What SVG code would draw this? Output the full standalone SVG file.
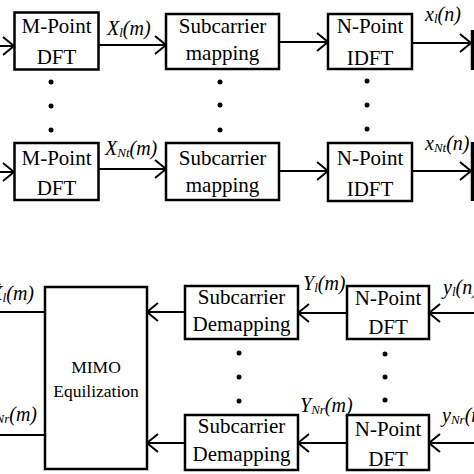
<svg xmlns="http://www.w3.org/2000/svg" width="474" height="474" viewBox="0 0 474 474">
<defs>
<style>
.box{fill:#fff;stroke:#000;stroke-width:2.5}
text{font-family:'Liberation Serif','DejaVu Serif','Noto Serif',Times,serif;fill:#000}
.bt{font-size:21px;text-anchor:middle}
.mt{font-size:17.5px;text-anchor:middle}
.lb{font-size:20px;font-style:italic}
.sub{font-size:13px}
.ln{fill:none;stroke:#000;stroke-width:2}
.dot{fill:#000}
</style>
<marker id="arr" markerUnits="userSpaceOnUse" markerWidth="16" markerHeight="22" refX="13" refY="11" orient="auto" viewBox="0 0 16 22">
<path d="M2,2 L13,11 L2,20" fill="none" stroke="#000" stroke-width="2"/>
</marker>
</defs>
<rect width="474" height="474" fill="#fff"/>

<g id="connectors">
<line class="ln" x1="0" y1="46" x2="14" y2="46" marker-end="url(#arr)"/>
<line class="ln" x1="98" y1="45" x2="166" y2="45" marker-end="url(#arr)"/>
<line class="ln" x1="279" y1="42" x2="328" y2="42" marker-end="url(#arr)"/>
<line class="ln" x1="412" y1="43" x2="471" y2="43" marker-end="url(#arr)"/>
<line class="ln" x1="0" y1="172" x2="14" y2="172" marker-end="url(#arr)"/>
<line class="ln" x1="98" y1="169" x2="166" y2="169" marker-end="url(#arr)"/>
<line class="ln" x1="279" y1="171" x2="328" y2="171" marker-end="url(#arr)"/>
<line class="ln" x1="412" y1="171" x2="471" y2="171" marker-end="url(#arr)"/>
<line x1="472.5" y1="30" x2="472.5" y2="70" stroke="#000" stroke-width="3.5"/>
<line x1="472.5" y1="142" x2="472.5" y2="201" stroke="#000" stroke-width="3.5"/>

<line class="ln" x1="474" y1="313" x2="429" y2="313" marker-end="url(#arr)"/>
<line class="ln" x1="347" y1="313" x2="298" y2="313" marker-end="url(#arr)"/>
<line class="ln" x1="185" y1="312" x2="147" y2="312" marker-end="url(#arr)"/>
<line class="ln" x1="0" y1="312" x2="45" y2="312"/>
<line class="ln" x1="474" y1="443" x2="429" y2="443" marker-end="url(#arr)"/>
<line class="ln" x1="347" y1="443" x2="298" y2="443" marker-end="url(#arr)"/>
<line class="ln" x1="185" y1="443" x2="147" y2="443" marker-end="url(#arr)"/>
<line class="ln" x1="0" y1="435" x2="45" y2="435"/>
</g>

<g id="dots">
<circle class="dot" cx="51" cy="82" r="2.5"/><circle class="dot" cx="51" cy="106" r="2.5"/><circle class="dot" cx="51" cy="130" r="2.5"/>
<circle class="dot" cx="220" cy="82" r="2.5"/><circle class="dot" cx="220" cy="105" r="2.5"/><circle class="dot" cx="220" cy="130" r="2.5"/>
<circle class="dot" cx="367" cy="81" r="2.5"/><circle class="dot" cx="367" cy="105" r="2.5"/><circle class="dot" cx="367" cy="129" r="2.5"/>
<circle class="dot" cx="239" cy="353" r="2.5"/><circle class="dot" cx="239" cy="377" r="2.5"/><circle class="dot" cx="239" cy="401" r="2.5"/>
<circle class="dot" cx="385" cy="354" r="2.5"/><circle class="dot" cx="385" cy="377" r="2.5"/><circle class="dot" cx="385" cy="400" r="2.5"/>
</g>

<g id="dft1"><rect class="box" x="14.5" y="12.5" width="84" height="57"/><text class="bt" x="56.5" y="33">M-Point</text><text class="bt" x="56.5" y="64">DFT</text></g>
<g id="map1"><rect class="box" x="166" y="14" width="113" height="55"/><text class="bt" x="222.5" y="33">Subcarrier</text><text class="bt" x="222.5" y="60">mapping</text></g>
<g id="idft1"><rect class="box" x="328" y="14" width="84" height="55"/><text class="bt" x="370" y="33">N-Point</text><text class="bt" x="370" y="65">IDFT</text></g>

<g id="dft2"><rect class="box" x="14.5" y="143" width="84" height="57"/><text class="bt" x="56.5" y="165">M-Point</text><text class="bt" x="56.5" y="195">DFT</text></g>
<g id="map2"><rect class="box" x="166" y="143" width="113" height="57"/><text class="bt" x="222.5" y="165">Subcarrier</text><text class="bt" x="222.5" y="192">mapping</text></g>
<g id="idft2"><rect class="box" x="328" y="143" width="84" height="58"/><text class="bt" x="370" y="165">N-Point</text><text class="bt" x="370" y="196">IDFT</text></g>

<g id="mimo"><rect class="box" x="45" y="287" width="102" height="182"/><text class="mt" x="96" y="373">MIMO</text><text class="mt" x="96" y="397">Equilization</text></g>
<g id="demap1"><rect class="box" x="185" y="286" width="113" height="53"/><text class="bt" x="241.5" y="304">Subcarrier</text><text class="bt" x="241.5" y="331">Demapping</text></g>
<g id="ndft1"><rect class="box" x="347" y="286" width="82" height="53"/><text class="bt" x="388" y="305">N-Point</text><text class="bt" x="388" y="334">DFT</text></g>
<g id="demap2"><rect class="box" x="185" y="415" width="113" height="55"/><text class="bt" x="241.5" y="433">Subcarrier</text><text class="bt" x="241.5" y="461">Demapping</text></g>
<g id="ndft2"><rect class="box" x="347" y="415" width="82" height="55"/><text class="bt" x="388" y="436">N-Point</text><text class="bt" x="388" y="466">DFT</text></g>

<g id="labels">
<text class="lb" x="107" y="35">X<tspan class="sub" dy="2">l</tspan><tspan dy="-2">(m)</tspan></text>
<text class="lb" x="105" y="155">X<tspan class="sub" dy="2">Nt</tspan><tspan dy="-2">(m)</tspan></text>
<text class="lb" x="425" y="21">x<tspan class="sub" dy="2">l</tspan><tspan dy="-2">(n)</tspan></text>
<text class="lb" x="425" y="150">x<tspan class="sub" dy="2">Nt</tspan><tspan dy="-2">(n)</tspan></text>
<text class="lb" x="303" y="290">Y<tspan class="sub" dy="2">l</tspan><tspan dy="-2">(m)</tspan></text>
<text class="lb" x="300" y="412">Y<tspan class="sub" dy="2">Nr</tspan><tspan dy="-2">(m)</tspan></text>
<text class="lb" x="443" y="294">y<tspan class="sub" dy="2">l</tspan><tspan dy="-2">(n)</tspan></text>
<text class="lb" x="442" y="422">y<tspan class="sub" dy="2">Nr</tspan><tspan dy="-2">(n)</tspan></text>
<text class="lb" x="34" y="300" text-anchor="end">X&#770;<tspan class="sub" dy="2">l</tspan><tspan dy="-2">(m)</tspan></text>
<text class="lb" x="37" y="421" text-anchor="end">X&#770;<tspan class="sub" dy="2">Nr</tspan><tspan dy="-2">(m)</tspan></text>
</g>
</svg>
